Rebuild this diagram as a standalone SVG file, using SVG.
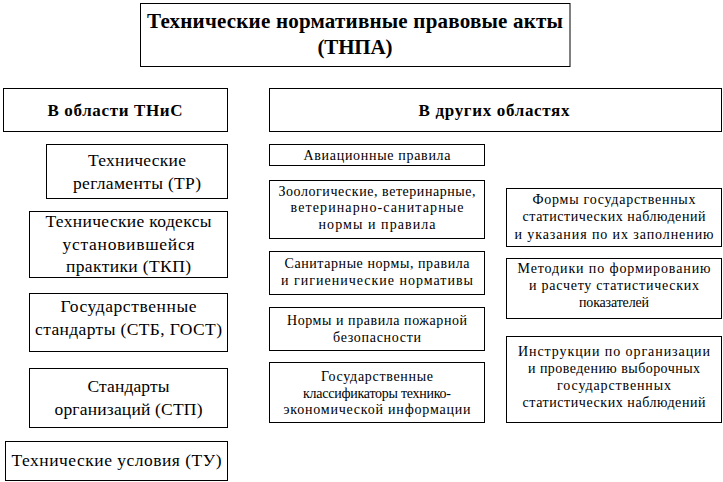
<svg xmlns="http://www.w3.org/2000/svg" width="723" height="482" viewBox="0 0 723 482">
<style>
rect{fill:#fff;stroke:#000;stroke-width:1}
text{font-family:"Liberation Serif","Times New Roman",serif;fill:#000;text-anchor:middle}
.h{font-weight:bold;font-size:21px}
.b{font-weight:bold;font-size:17px}
.l{font-size:17.5px}
.m{font-size:14px}
.r{font-size:14px}
</style>
<rect x="0" y="0" width="723" height="482" style="stroke:none"/>
<g id="title">
<rect x="140.5" y="3.5" width="429.5" height="63"/>
<text class="h" x="355" y="28" textLength="416">Технические нормативные правовые акты</text>
<text class="h" x="355" y="54" textLength="75">(ТНПА)</text>
</g>
<g id="thns">
<rect x="3.5" y="88.5" width="224" height="43"/>
<text class="b" x="115" y="115.5" textLength="135">В области ТНиС</text>
</g>
<g id="other">
<rect x="269.5" y="88.5" width="452" height="43"/>
<text class="b" x="494" y="115.5" textLength="151">В других областях</text>
</g>
<g id="tr">
<rect x="46.5" y="144.5" width="181" height="54"/>
<text class="l" x="137" y="166" textLength="98">Технические</text>
<text class="l" x="137" y="189" textLength="128">регламенты (ТР)</text>
</g>
<g id="tkp">
<rect x="29.5" y="211.5" width="198" height="66"/>
<text class="l" x="128.5" y="227" textLength="166">Технические кодексы</text>
<text class="l" x="128.5" y="249.5" textLength="132">установившейся</text>
<text class="l" x="128.5" y="272" textLength="125">практики (ТКП)</text>
</g>
<g id="gos">
<rect x="29.5" y="293.5" width="198" height="58"/>
<text class="l" x="128.5" y="312" textLength="136">Государственные</text>
<text class="l" x="128.5" y="335" textLength="187">стандарты (СТБ, ГОСТ)</text>
</g>
<g id="stp">
<rect x="29.5" y="368.5" width="198" height="59"/>
<text class="l" x="128.5" y="392" textLength="82">Стандарты</text>
<text class="l" x="128.5" y="415" textLength="148">организаций (СТП)</text>
</g>
<g id="tu">
<rect x="5.5" y="441.5" width="222" height="39"/>
<text class="l" x="116.5" y="466" textLength="210">Технические условия (ТУ)</text>
</g>
<g id="avia">
<rect x="269.5" y="144.5" width="215" height="21"/>
<text class="m" x="377" y="160" textLength="147">Авиационные правила</text>
</g>
<g id="zoo">
<rect x="269.5" y="180.5" width="215" height="58"/>
<text class="m" x="377" y="196" textLength="197">Зоологические, ветеринарные,</text>
<text class="m" x="377" y="212" textLength="173">ветеринарно-санитарные</text>
<text class="m" x="377" y="228.5" textLength="117">нормы и правила</text>
</g>
<g id="san">
<rect x="269.5" y="251.5" width="215" height="43"/>
<text class="m" x="377" y="268" textLength="185">Санитарные нормы, правила</text>
<text class="m" x="377" y="285" textLength="192">и гигиенические нормативы</text>
</g>
<g id="pozh">
<rect x="269.5" y="307.5" width="215" height="43"/>
<text class="m" x="377" y="325" textLength="180">Нормы и правила пожарной</text>
<text class="m" x="377" y="342" textLength="88">безопасности</text>
</g>
<g id="klass">
<rect x="269.5" y="362.5" width="215" height="60"/>
<text class="m" x="377" y="381" textLength="112">Государственные</text>
<text class="m" x="377" y="397.5" textLength="148">классификаторы технико-</text>
<text class="m" x="377" y="414" textLength="187">экономической информации</text>
</g>
<g id="forms">
<rect x="506.5" y="188.5" width="215" height="58"/>
<text class="r" x="614" y="204" textLength="163">Формы государственных</text>
<text class="r" x="614" y="221" textLength="183">статистических наблюдений</text>
<text class="r" x="614" y="238.5" textLength="199">и указания по их заполнению</text>
</g>
<g id="metod">
<rect x="506.5" y="258.5" width="215" height="60"/>
<text class="r" x="614" y="273" textLength="193">Методики по формированию</text>
<text class="r" x="614" y="290" textLength="170">и расчету статистических</text>
<text class="r" x="614" y="307" textLength="70">показателей</text>
</g>
<g id="instr">
<rect x="506.5" y="336.5" width="215" height="86"/>
<text class="r" x="614" y="356" textLength="192">Инструкции по организации</text>
<text class="r" x="614" y="373" textLength="172">и проведению выборочных</text>
<text class="r" x="614" y="390" textLength="114">государственных</text>
<text class="r" x="614" y="407" textLength="183">статистических наблюдений</text>
</g>
<g id="connectors"/>
</svg>
